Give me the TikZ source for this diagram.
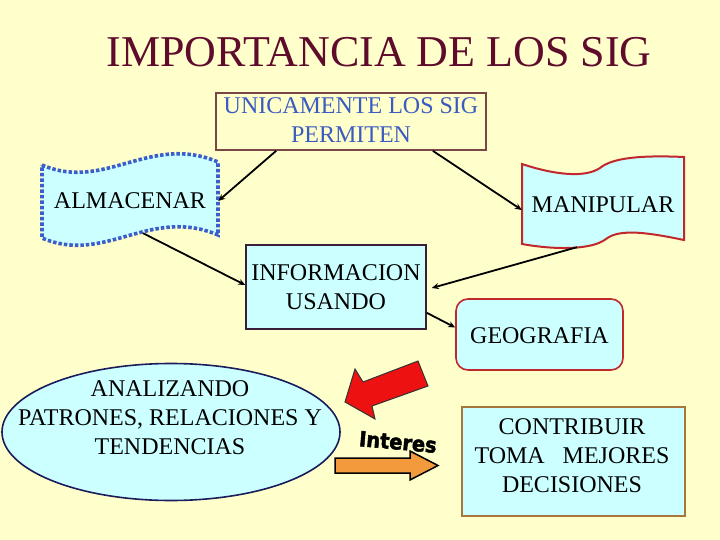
\documentclass[tikz,border=0pt]{standalone}
\usepackage{fontspec}
\setmainfont{Liberation Serif}
\newfontfamily\wordart[FakeBold=2.5]{DejaVu Sans}
\usetikzlibrary{arrows.meta,shapes.geometric}
\definecolor{bgyellow}{HTML}{FFFFCC}
\definecolor{boxcyan}{HTML}{CCFFFF}
\definecolor{titlered}{HTML}{5E0B2C}
\definecolor{topblue}{HTML}{3B5BC0}
\definecolor{topborder}{HTML}{7A4646}
\definecolor{dotblue}{HTML}{3A5FCD}
\definecolor{wavered}{HTML}{C0282D}
\definecolor{infoborder}{HTML}{3A1F3A}
\definecolor{ellborder}{HTML}{1C1C5C}
\definecolor{conborder}{HTML}{A8763A}
\definecolor{arrred}{HTML}{EE1111}
\definecolor{arrorange}{HTML}{F39A3C}
\tikzset{
  txt/.style={font=\fontsize{24}{29}\selectfont, align=center, inner sep=0pt, text=black},
  conn/.style={draw=black, line width=1.8pt, -{Stealth[length=7pt,width=6pt]}},
  cyanbox/.style={fill=boxcyan, line width=1.6pt, inner sep=0pt},
}
\begin{document}
\begin{tikzpicture}[x=1pt,y=-1pt]
\useasboundingbox (0,0) rectangle (720,540);
\fill[bgyellow] (0,0) rectangle (720,540);

% title
\node[font=\fontsize{44}{50}\selectfont, text=titlered, anchor=base, inner sep=0pt] (title) at (379,67) {IMPORTANCIA DE LOS SIG};

% top box
\node[draw=topborder, line width=1.6pt, fill=bgyellow, minimum width=270pt, minimum height=57pt, inner sep=0pt] (top) at (351,121.5) {};
\node[txt, text=topblue] (topt) at (351,120) {UNICAMENTE LOS SIG\\PERMITEN};

% ALMACENAR wave
\filldraw[fill=boxcyan, draw=dotblue, line width=3.6pt, dash pattern=on 3.5pt off 2pt]
  (42,165) .. controls (105,192) and (150,133) .. (218,162)
  -- (218,235) .. controls (150,206) and (105,265) .. (42,238) -- cycle;
\node[txt, minimum width=176pt, minimum height=74pt] (alm) at (130,201) {ALMACENAR};

% MANIPULAR wave
\filldraw[fill=boxcyan, draw=wavered, line width=2pt]
  (522,164) .. controls (555,175) and (585,178) .. (600,168)
  .. controls (612,158) and (640,155) .. (684,157)
  -- (684,240) .. controls (650,233) and (620,228) .. (606,239)
  .. controls (592,250) and (555,250) .. (522,244) -- cycle;
\node[txt, minimum width=162pt, minimum height=76pt] (man) at (603,205) {MANIPULAR};

% INFORMACION
\node[cyanbox, draw=infoborder, minimum width=180pt, minimum height=84pt] (info) at (336,287) {};
\node[txt] (infot) at (336,287) {INFORMACION\\USANDO};

% GEOGRAFIA
\node[cyanbox, draw=wavered, rounded corners=12pt, minimum width=167pt, minimum height=71pt] (geo) at (539.5,334.5) {};
\node[txt] (geot) at (539.5,336) {GEOGRAFIA};

% ellipse
\node[ellipse, cyanbox, draw=ellborder, minimum width=338pt, minimum height=137pt] (ell) at (171,432) {};
\node[txt] (ellt) at (170,418) {ANALIZANDO\\PATRONES, RELACIONES Y\\TENDENCIAS};

% CONTRIBUIR
\node[cyanbox, draw=conborder, minimum width=223pt, minimum height=109pt] (con) at (573.5,461.5) {};
\node[txt] (cont) at (572,456) {CONTRIBUIR\\TOMA\ \ \ MEJORES\\DECISIONES};

% connectors (yshift is in page direction: positive = up)
\draw[conn] ([xshift=61pt]top.south west) -- (alm.east);
\draw[conn] ([xshift=-54pt]top.south east) -- ([yshift=-5pt]man.west);
\draw[conn] ([xshift=13pt,yshift=5pt]alm.south) -- ([yshift=2pt]info.west);
\draw[conn] ([xshift=-26pt,yshift=-4pt]man.south) -- ([xshift=5pt,yshift=-1pt]info.east);
\draw[conn] ([yshift=17pt]info.south east) -- ([yshift=7pt]geo.west);

% red block arrow
\filldraw[fill=arrred, draw=black!80, line width=1pt]
  (345,402) -- (355,369) -- (363,382) -- (418,361) -- (428,386) -- (372,406) -- (375,419) -- cycle;

% interes
\node[font=\wordart\bfseries\fontsize{19}{20}\selectfont, inner sep=0pt, rotate=-5, xscale=1.02, yscale=1.1] (wa) at (398,442) {Interes};

% orange arrow
\filldraw[fill=arrorange, draw=black, line width=1.5pt]
  (335,458) -- (410,458) -- (410,451) -- (438,465.5) -- (410,480) -- (410,473) -- (335,473) -- cycle;
\end{tikzpicture}
\end{document}
